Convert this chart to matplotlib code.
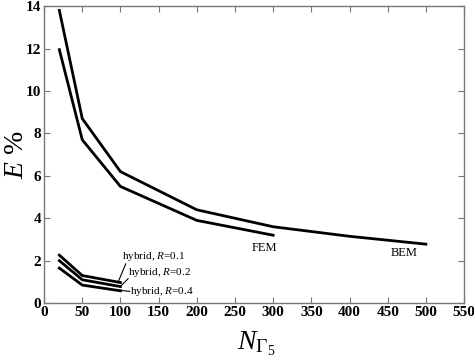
import matplotlib
matplotlib.use('Agg')
import matplotlib.pyplot as plt

plt.rcParams['font.family'] = ['Liberation Serif', 'DejaVu Serif']
plt.rcParams['mathtext.fontset'] = 'custom'
plt.rcParams['mathtext.rm'] = 'Liberation Serif'
plt.rcParams['mathtext.it'] = 'Liberation Serif:italic'

# data
n_bem = [20, 50, 100, 200, 300, 400, 500]
e_bem = [13.8, 8.7, 6.2, 4.4, 3.6, 3.15, 2.78]
n_fem = [20, 50, 100, 200, 300]
e_fem = [11.95, 7.7, 5.5, 3.9, 3.2]
n_hyb = [20, 50, 100]
e_hyb_01 = [2.26, 1.3, 0.97]
e_hyb_02 = [2.0, 1.1, 0.78]
e_hyb_04 = [1.65, 0.85, 0.58]

fig = plt.figure(figsize=(4.74, 3.63), dpi=100)
ax = fig.add_axes([0.093, 0.165, 0.886, 0.818])

for x, y in [(n_bem, e_bem), (n_fem, e_fem), (n_hyb, e_hyb_01),
             (n_hyb, e_hyb_02), (n_hyb, e_hyb_04)]:
    ax.plot(x, y, color='black', lw=2)

ax.set_xlim(0, 550)
ax.set_ylim(0, 14)
ax.set_xticks(range(0, 551, 50))
ax.set_yticks(range(0, 15, 2))
ax.tick_params(direction='in', top=True, right=True, length=4, width=0.8,
               labelsize=11, color='#777777', pad=2)
for lab in ax.get_xticklabels() + ax.get_yticklabels():
    lab.set_fontweight('bold')
for s in ax.spines.values():
    s.set_color('#777777')
    s.set_linewidth(1)

# curve labels
ax.text(289, 2.6, 'FEM', fontsize=9, ha='center', va='center')
ax.text(472, 2.35, 'BEM', fontsize=9, ha='center', va='center')

ax.text(102, 2.2, 'hybrid, $R$=0.1', fontsize=8, ha='left', va='center')
ax.plot([97, 107], [1.0, 1.85], color='black', lw=0.8)
ax.text(110, 1.45, 'hybrid, $R$=0.2', fontsize=8, ha='left', va='center')
ax.plot([101, 110], [0.82, 1.15], color='black', lw=0.8)
ax.text(113, 0.55, 'hybrid, $R$=0.4', fontsize=8, ha='left', va='center')
ax.plot([101, 112], [0.6, 0.55], color='black', lw=0.8)

ax.set_xlabel(r'$N_{\Gamma_5}$', fontsize=20)
ax.set_ylabel(r'$E$ %', fontsize=20)
ax.xaxis.set_label_coords(0.505, -0.09)
ax.yaxis.set_label_coords(-0.035, 0.5)

fig.savefig('out.png', dpi=100)
